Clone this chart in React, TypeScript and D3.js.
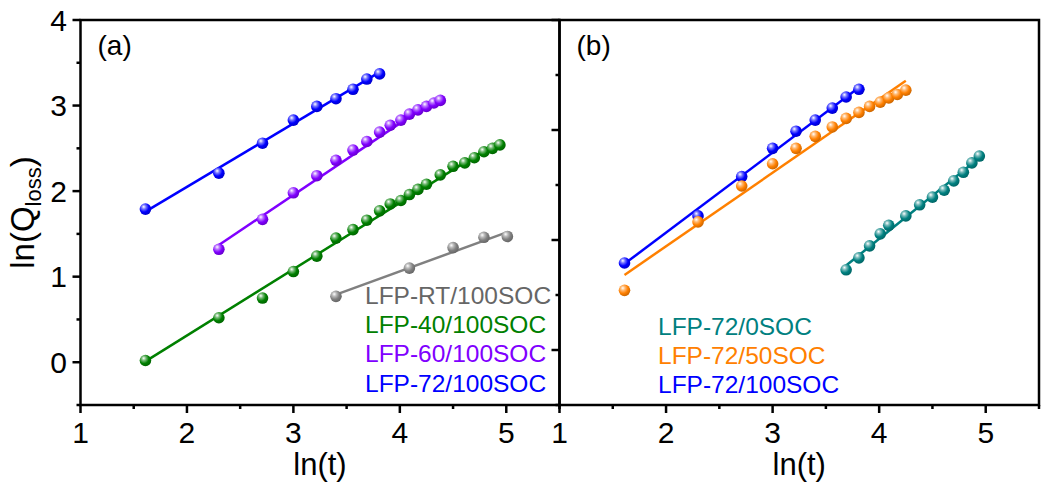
import * as d3 from 'd3'

// ln(t) values and ln(Qloss) values
// panel (a)
const xRT = [3.40, 4.09, 4.50, 4.79, 5.01]
const yRT = [0.77, 1.10, 1.34, 1.46, 1.47]
const fitRT = [[3.40, 0.79], [5.01, 1.52]]

const x40 = [1.61, 2.30, 2.71, 3.00, 3.22, 3.40, 3.56, 3.69, 3.81, 3.91, 4.01, 4.09, 4.17, 4.25, 4.38, 4.50, 4.61, 4.70, 4.79, 4.87, 4.94]
const y40 = [0.02, 0.52, 0.75, 1.06, 1.24, 1.45, 1.55, 1.66, 1.77, 1.85, 1.89, 1.96, 2.02, 2.08, 2.19, 2.29, 2.33, 2.39, 2.46, 2.50, 2.54]
const fit40 = [[1.61, 0.01], [4.94, 2.59]]

const x60 = [2.30, 2.71, 3.00, 3.22, 3.40, 3.56, 3.69, 3.81, 3.91, 4.01, 4.09, 4.17, 4.25, 4.32, 4.38]
const y60 = [1.32, 1.67, 1.98, 2.18, 2.36, 2.48, 2.58, 2.69, 2.77, 2.83, 2.90, 2.95, 2.99, 3.03, 3.06]
const fit60 = [[2.30, 1.37], [4.38, 3.11]]

const x72 = [1.61, 2.30, 2.71, 3.00, 3.22, 3.40, 3.56, 3.69, 3.81]
const y72 = [1.79, 2.21, 2.56, 2.83, 2.99, 3.08, 3.19, 3.31, 3.37]
const fit72 = [[1.61, 1.76], [3.81, 3.39]]

// panel (b)
const xB100 = [1.61, 2.30, 2.71, 3.00, 3.22, 3.40, 3.56, 3.69, 3.81]
const yB100 = [1.16, 1.71, 2.17, 2.50, 2.70, 2.83, 2.97, 3.10, 3.19]
const fitB100 = [[1.61, 1.15], [3.81, 3.21]]

const xB50 = [1.61, 2.30, 2.71, 3.00, 3.22, 3.40, 3.56, 3.69, 3.81, 3.91, 4.01, 4.09, 4.17, 4.25]
const yB50 = [0.84, 1.64, 2.06, 2.32, 2.50, 2.64, 2.75, 2.85, 2.92, 2.99, 3.04, 3.09, 3.13, 3.18]
const fitB50 = [[1.61, 1.02], [4.25, 3.29]]

const xB0 = [3.69, 3.81, 3.91, 4.01, 4.09, 4.25, 4.38, 4.50, 4.61, 4.70, 4.79, 4.87, 4.94]
const yB0 = [1.08, 1.22, 1.36, 1.50, 1.60, 1.71, 1.84, 1.93, 2.01, 2.12, 2.22, 2.33, 2.41]
const fitB0 = [[3.69, 1.13], [4.94, 2.39]]

const xTicks = [1, 2, 3, 4, 5]
const xMinor = [1.5, 2.5, 3.5, 4.5, 5.5]
const yTicks = [0, 1, 2, 3, 4]
const yMinor = [-0.5, 0.5, 1.5, 2.5, 3.5]
// odd extra axis on the divider between the panels
const rTicks = [0, 1, 2, 3]
const rMinor = [-0.5, 0.5, 1.5, 2.5]

const FONT = 'Arial, "Liberation Sans", sans-serif'

const seriesA = [
  { id: 'rt', xs: xRT, ys: yRT, fit: fitRT, color: '#808080', text: '#666666', label: 'LFP-RT/100SOC' },
  { id: 'g40', xs: x40, ys: y40, fit: fit40, color: '#008000', text: '#008000', label: 'LFP-40/100SOC' },
  { id: 'p60', xs: x60, ys: y60, fit: fit60, color: '#8000ff', text: '#8000ff', label: 'LFP-60/100SOC' },
  { id: 'b72', xs: x72, ys: y72, fit: fit72, color: '#0000ff', text: '#0000ff', label: 'LFP-72/100SOC' },
]
const seriesB = [
  { id: 'bb100', xs: xB100, ys: yB100, fit: fitB100, color: '#0000ff', text: '#0000ff', label: 'LFP-72/100SOC' },
  { id: 'bb50', xs: xB50, ys: yB50, fit: fitB50, color: '#ff8000', text: '#ff8000', label: 'LFP-72/50SOC' },
  { id: 'bb0', xs: xB0, ys: yB0, fit: fitB0, color: '#008080', text: '#008080', label: 'LFP-72/0SOC' },
]
const legendB = [seriesB[2], seriesB[1], seriesB[0]]

const W = 1043
const H = 488
const top = 20
const bottom = 405
const xA = d3.scaleLinear().domain([1, 5.5]).range([80.5, 559.5])
const xB = d3.scaleLinear().domain([1, 5.5]).range([559.5, 1039])
const y = d3.scaleLinear().domain([-0.5, 4]).range([bottom, top])
const yR = d3.scaleLinear().domain([-0.5, 3]).range([bottom, top])

function Panel({ x, series, legend, legendX, legendY0, tag }: any) {
  const line = d3.line<number[]>().x((d) => x(d[0])).y((d) => y(d[1]))
  const [x0, x1] = x.range()
  return (
    <g>
      {series.map((s: any) => (
        <path key={s.id + 'fit'} d={line(s.fit) || ''} stroke={s.color} strokeWidth={2.5} fill="none" />
      ))}
      {series.map((s: any) =>
        s.xs.map((v: number, i: number) => (
          <circle key={s.id + i} cx={x(v)} cy={y(s.ys[i])} r={5.8} fill={`url(#grad-${s.color.slice(1)})`} />
        ))
      )}
      {legend.map((s: any, i: number) => (
        <text key={s.id + 'lg'} x={legendX} y={legendY0 + i * 29.2} fill={s.text} fontSize={24.5} fontFamily={FONT}>
          {s.label}
        </text>
      ))}
      <text x={x0 + 17} y={55} fontSize={28} fontFamily={FONT}>{tag}</text>
      {/* x ticks */}
      {xTicks.map((t) => (
        <g key={'xt' + t}>
          <line x1={x(t)} x2={x(t)} y1={bottom} y2={bottom + 8} stroke="#000" strokeWidth={2.5} />
          <text x={x(t)} y={443} textAnchor="middle" fontSize={30} fontFamily={FONT}>{t}</text>
        </g>
      ))}
      {xMinor.map((t) => (
        <line key={'xm' + t} x1={x(t)} x2={x(t)} y1={bottom} y2={bottom + 4} stroke="#000" strokeWidth={2.5} />
      ))}
      <text x={(x0 + x1) / 2} y={475} textAnchor="middle" fontSize={31} fontFamily={FONT}>ln(t)</text>
      <rect x={x0} y={top} width={x1 - x0} height={bottom - top} fill="none" stroke="#000" strokeWidth={2.5} />
    </g>
  )
}

export default function App() {
  const colors = ['#808080', '#008000', '#8000ff', '#0000ff', '#ff8000', '#008080']
  return (
    <svg width={W} height={H} style={{ position: 'absolute', left: 0, top: 0, background: '#fff' }}>
      <defs>
        {colors.map((c) => (
          <radialGradient key={c} id={`grad-${c.slice(1)}`} cx="38%" cy="35%" r="65%" fx="35%" fy="30%">
            <stop offset="0%" stopColor="#ffffff" />
            <stop offset="30%" stopColor={d3.interpolateRgb('#ffffff', c)(0.55)} />
            <stop offset="65%" stopColor={c} />
            <stop offset="100%" stopColor={d3.color(c)!.darker(0.6).toString()} />
          </radialGradient>
        ))}
      </defs>
      <rect width={W} height={H} fill="#fff" />
      <Panel x={xA} series={seriesA} legend={seriesA} legendX={365} legendY0={304} tag="(a)" />
      <Panel x={xB} series={seriesB} legend={legendB} legendX={658} legendY0={335} tag="(b)" />
      {/* left y axis ticks */}
      {yTicks.map((t) => (
        <g key={'yt' + t}>
          <line x1={80.5 - 8} x2={80.5} y1={y(t)} y2={y(t)} stroke="#000" strokeWidth={2.5} />
          <text x={67} y={y(t)} dy="0.36em" textAnchor="end" fontSize={30} fontFamily={FONT}>{t}</text>
        </g>
      ))}
      {yMinor.map((t) => (
        <line key={'ym' + t} x1={80.5 - 4} x2={80.5} y1={y(t)} y2={y(t)} stroke="#000" strokeWidth={2.5} />
      ))}
      {rTicks.map((t) => (
        <line key={'rt' + t} x1={559.5 - 8} x2={559.5} y1={yR(t)} y2={yR(t)} stroke="#000" strokeWidth={2.5} />
      ))}
      {rMinor.map((t) => (
        <line key={'rm' + t} x1={559.5 - 4} x2={559.5} y1={yR(t)} y2={yR(t)} stroke="#000" strokeWidth={2.5} />
      ))}
      <text transform={`translate(34,${(top + bottom) / 2}) rotate(-90)`} textAnchor="middle" fontSize={33} fontFamily={FONT}>
        ln(Q<tspan fontSize={22} dy={7}>loss</tspan><tspan dy={-7}>)</tspan>
      </text>
    </svg>
  )
}
